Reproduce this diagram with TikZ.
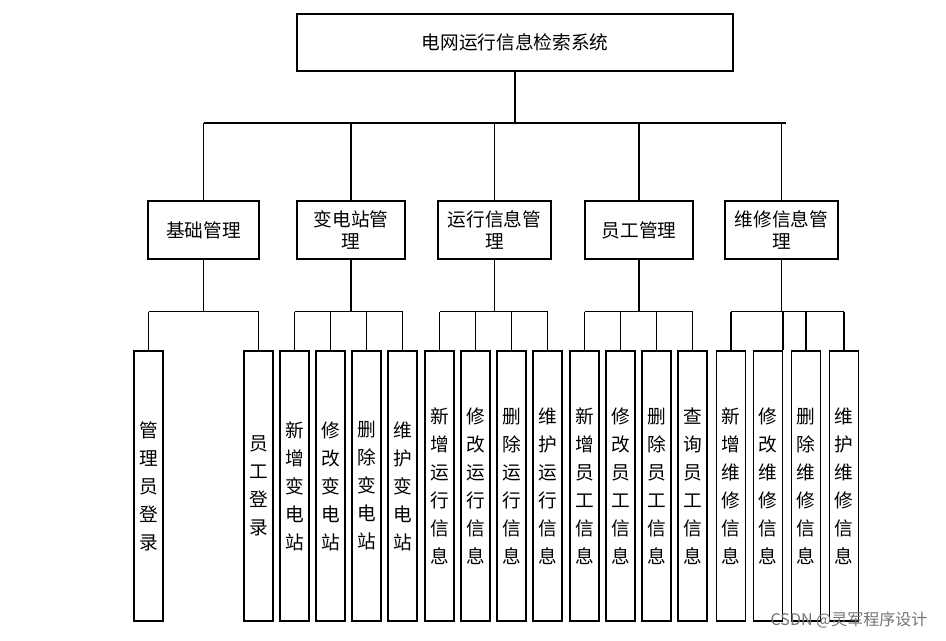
\documentclass[tikz,border=0pt]{standalone}
\usetikzlibrary{calc}
\usepackage{fontspec}
\newfontfamily\cjk{Noto Sans CJK SC}
\begin{document}
\begin{tikzpicture}[x=0.75pt,y=-0.75pt,
  box/.style={draw,line width=0.9pt,inner sep=0pt,font=\cjk\fontsize{14}{17}\selectfont,align=center},
  vbox/.style={draw,line width=0.9pt,inner sep=0pt,minimum width=21.75pt,minimum height=202.5pt,font=\cjk\fontsize{14}{21}\selectfont,align=center},
  ln/.style={line width=1pt}]
\useasboundingbox (0,0) rectangle (946,640);
\node[box,minimum width=327pt,minimum height=42.75pt] (root) at (515,42.5) {电网运行信息检索系统};
\def\midbox#1#2#3#4{\node[box,minimum width=#3*0.75pt,minimum height=43.5pt] (#1) at (#2,230) {#4};}
\midbox{a}{203.5}{111}{基础管理}
\midbox{b}{351}{108}{变电站管\\理}
\midbox{c}{494.5}{113}{运行信息管\\理}
\midbox{d}{639}{108}{员工管理}
\midbox{e}{781.5}{113}{维修信息管\\理}
\coordinate (busL) at (204,123);
\coordinate (busR) at (786,123);
\draw[ln] (root.south) -- (root.south |- busL);
\draw[ln] (busL) -- (busR);
\foreach \n in {a,b,c,d,e} \draw[ln] (\n.north |- busL) -- (\n.north);
\def\leaf#1#2#3{\node[vbox] (#1) at (#2,486) {#3};}
\leaf{a1}{148.5}{管\\理\\员\\登\\录}
\leaf{a2}{258.5}{员\\工\\登\\录}
\leaf{b1}{294.5}{新\\增\\变\\电\\站}
\leaf{b2}{330.5}{修\\改\\变\\电\\站}
\leaf{b3}{366.5}{删\\除\\变\\电\\站}
\leaf{b4}{402.5}{维\\护\\变\\电\\站}
\leaf{c1}{439.5}{新\\增\\运\\行\\信\\息}
\leaf{c2}{475.5}{修\\改\\运\\行\\信\\息}
\leaf{c3}{511.5}{删\\除\\运\\行\\信\\息}
\leaf{c4}{547.5}{维\\护\\运\\行\\信\\息}
\leaf{d1}{584.5}{新\\增\\员\\工\\信\\息}
\leaf{d2}{620.5}{修\\改\\员\\工\\信\\息}
\leaf{d3}{656.5}{删\\除\\员\\工\\信\\息}
\leaf{d4}{692.5}{查\\询\\员\\工\\信\\息}
\leaf{e1}{731}{新\\增\\维\\修\\信\\息}
\leaf{e2}{768}{修\\改\\维\\修\\信\\息}
\leaf{e3}{806}{删\\除\\维\\修\\信\\息}
\leaf{e4}{844}{维\\护\\维\\修\\信\\息}
\foreach \p/\l/\r/\kids in {a/a1/a2/{a1,a2},b/b1/b4/{b1,b2,b3,b4},c/c1/c4/{c1,c2,c3,c4},d/d1/d4/{d1,d2,d3,d4},e/e1/e4/{e1,e3,e4}}{
  \coordinate (\p bus) at ($(\p.south)+(0,52)$);
  \draw[ln] (\p.south) -- (\p bus);
  \draw[ln] (\l.north |- \p bus) -- (\r.north |- \p bus);
  \foreach \k in \kids \draw[ln] (\k.north |- \p bus) -- (\k.north);
}
\draw[ln] (e2.north east |- ebus) -- (e2.north east);
\node[anchor=east,text=black!55,font=\cjk\fontsize{12}{14}\selectfont] (wm) at (932,620) {CSDN @灵军程序设计};
\end{tikzpicture}
\end{document}
